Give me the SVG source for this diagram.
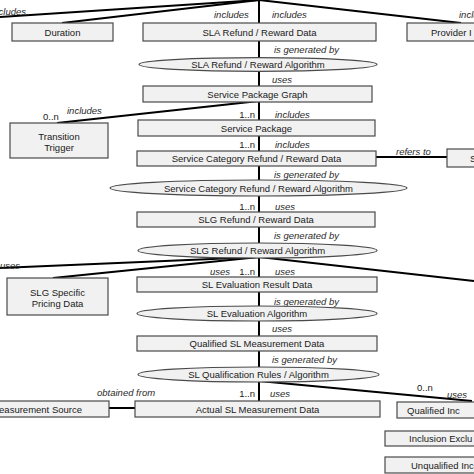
<svg xmlns="http://www.w3.org/2000/svg" width="474" height="474" viewBox="0 0 474 474">
<style>
.b{fill:#f1f1f1;stroke:#4a4a4a;stroke-width:1.2}
.t{font-family:"Liberation Sans",Arial,sans-serif;font-size:9.5px;fill:#1a1a1a;text-anchor:middle}
.s{font-family:"Liberation Sans",Arial,sans-serif;font-size:9.5px;fill:#1a1a1a}
.l{font-family:"Liberation Sans",Arial,sans-serif;font-size:9.5px;font-style:italic;fill:#2a2a2a}
.c{stroke:#000;stroke-width:2;fill:none}
</style>
<rect width="474" height="474" fill="#fff"/>
<g id="connectors">
<line class="c" x1="259" y1="0" x2="259" y2="401"/>
<line class="c" x1="0" y1="17" x2="259" y2="0"/>
<line class="c" x1="62" y1="23" x2="259" y2="0"/>
<line class="c" x1="259" y1="0" x2="461" y2="23"/>
<line class="c" x1="57" y1="123" x2="259" y2="101"/>
<line class="c" x1="376" y1="157" x2="447" y2="157"/>
<line class="c" x1="0" y1="268" x2="259" y2="257"/>
<line class="c" x1="53" y1="278" x2="259" y2="257"/>
<line class="c" x1="259" y1="257" x2="474" y2="281"/>
<line class="c" x1="109" y1="408" x2="135" y2="408"/>
<line class="c" x1="259" y1="381" x2="472" y2="401"/>
</g>
<g id="labels">
<text class="l" x="26" y="15" text-anchor="end">includes</text>
<text class="l" x="214" y="18">includes</text>
<text class="l" x="272" y="18">includes</text>
<text class="l" x="459" y="18">includes</text>
<text class="l" x="274" y="53">is generated by</text>
<text class="l" x="272" y="83">uses</text>
<text class="s" x="255" y="118" text-anchor="end">1..n</text>
<text class="l" x="275" y="118">includes</text>
<text class="s" x="43" y="120">0..n</text>
<text class="l" x="67" y="114">includes</text>
<text class="s" x="255" y="148" text-anchor="end">1..n</text>
<text class="l" x="275" y="148">includes</text>
<text class="l" x="396" y="155">refers to</text>
<text class="l" x="274" y="178">is generated by</text>
<text class="s" x="255" y="210" text-anchor="end">1..n</text>
<text class="l" x="275" y="210">uses</text>
<text class="l" x="274" y="239">is generated by</text>
<text class="l" x="0" y="269">uses</text>
<text class="l" x="210" y="275">uses</text>
<text class="s" x="255" y="275" text-anchor="end">1..n</text>
<text class="l" x="275" y="275">uses</text>
<text class="l" x="274" y="305">is generated by</text>
<text class="l" x="272" y="332">uses</text>
<text class="l" x="272" y="363">is generated by</text>
<text class="l" x="97" y="396">obtained from</text>
<text class="s" x="255" y="397" text-anchor="end">1..n</text>
<text class="l" x="270" y="397">uses</text>
<text class="s" x="417" y="391">0..n</text>
<text class="l" x="447" y="398">uses</text>
</g>
<g id="duration"><rect class="b" x="12" y="23" width="101" height="18"/><text class="t" x="62.5" y="35.5">Duration</text></g>
<g id="sla-data"><rect class="b" x="143" y="23" width="233" height="18"/><text class="t" x="259.5" y="35.5">SLA Refund / Reward Data</text></g>
<g id="provider"><rect class="b" x="407" y="23" width="80" height="18"/><text class="s" x="431" y="35.5">Provider I</text></g>
<g id="sla-alg"><ellipse class="b" cx="258" cy="64.5" rx="119" ry="6.8"/><text class="t" x="258" y="68">SLA Refund / Reward Algorithm</text></g>
<g id="spg"><rect class="b" x="143" y="86" width="229" height="16"/><text class="t" x="257.5" y="97.5">Service Package Graph</text></g>
<g id="transition"><rect class="b" x="10" y="123" width="98" height="35"/><text class="t" x="59" y="139.5">Transition</text><text class="t" x="59" y="150.5">Trigger</text></g>
<g id="service-package"><rect class="b" x="138" y="120" width="237" height="16"/><text class="t" x="256.5" y="131.5">Service Package</text></g>
<g id="sc-data"><rect class="b" x="137" y="151" width="239" height="15"/><text class="t" x="256.5" y="162">Service Category Refund / Reward Data</text></g>
<g id="s-box"><rect class="b" x="447" y="149" width="40" height="18"/><text class="s" x="470" y="161.5">S</text></g>
<g id="sc-alg"><ellipse class="b" cx="258.5" cy="188" rx="148.5" ry="8"/><text class="t" x="258.5" y="191.5">Service Category Refund / Reward Algorithm</text></g>
<g id="slg-data"><rect class="b" x="137" y="212" width="238" height="15"/><text class="t" x="256" y="223">SLG Refund / Reward Data</text></g>
<g id="slg-alg"><ellipse class="b" cx="257.5" cy="250.5" rx="119.5" ry="7.5"/><text class="t" x="257.5" y="254">SLG Refund / Reward Algorithm</text></g>
<g id="slg-pricing"><rect class="b" x="7" y="278" width="101" height="37"/><text class="t" x="57.5" y="295.5">SLG Specific</text><text class="t" x="57.5" y="306.5">Pricing Data</text></g>
<g id="sl-eval-data"><rect class="b" x="137" y="277" width="240" height="15"/><text class="t" x="257" y="288">SL Evaluation Result Data</text></g>
<g id="sl-eval-alg"><ellipse class="b" cx="257" cy="313.5" rx="120" ry="7.5"/><text class="t" x="257" y="317">SL Evaluation Algorithm</text></g>
<g id="qualified-sl"><rect class="b" x="137" y="336" width="240" height="15"/><text class="t" x="257" y="347">Qualified SL Measurement Data</text></g>
<g id="sl-qual-alg"><ellipse class="b" cx="258.5" cy="374.5" rx="120.5" ry="7.5"/><text class="t" x="258.5" y="378">SL Qualification Rules / Algorithm</text></g>
<g id="meas-source"><rect class="b" x="-10" y="401" width="119" height="16"/><text class="s" x="82" y="412.5" text-anchor="end">easurement Source</text></g>
<g id="actual-sl"><rect class="b" x="135" y="401" width="245" height="16"/><text class="t" x="257.5" y="412.5">Actual SL Measurement Data</text></g>
<g id="qualified-inc"><rect class="b" x="397" y="402" width="90" height="16"/><text class="s" x="407" y="413.5">Qualified Inc</text></g>
<g id="inclusion-excl"><rect class="b" x="385" y="431" width="100" height="15"/><text class="s" x="409" y="442">Inclusion Exclu</text></g>
<g id="unqualified-inc"><rect class="b" x="385" y="457" width="100" height="16"/><text class="s" x="411" y="468.5">Unqualified Inc</text></g>
</svg>
